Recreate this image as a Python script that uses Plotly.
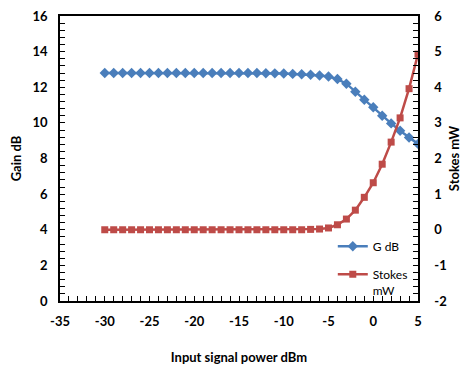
import plotly.graph_objects as go

input_power_dbm = [-30, -29, -28, -27, -26, -25, -24, -23, -22, -21, -20, -19,
                   -18, -17, -16, -15, -14, -13, -12, -11, -10, -9, -8, -7,
                   -6, -5, -4, -3, -2, -1, 0, 1, 2, 3, 4, 5]
gain_db = [12.8, 12.8, 12.8, 12.8, 12.8, 12.8, 12.8, 12.8, 12.8, 12.8, 12.8, 12.8,
           12.8, 12.8, 12.8, 12.8, 12.8, 12.8, 12.79, 12.78, 12.77, 12.75, 12.73, 12.7,
           12.66, 12.6, 12.46, 12.2, 11.75, 11.3, 10.88, 10.4, 9.97, 9.56, 9.18, 8.82]
stokes_mw = [0, 0, 0, 0, 0, 0, 0, 0, 0, 0, 0, 0,
             0, 0, 0, 0, 0, 0, 0, 0, 0, 0, 0, 0.01,
             0.02, 0.05, 0.14, 0.3, 0.55, 0.91, 1.32, 1.84, 2.46, 3.14, 3.96, 4.93]

x_tick_vals = [-35, -30, -25, -20, -15, -10, -5, 0, 5]
x_tick_text = ["-35", "-30", "-25", "-20", "-15", "-10", "-5", "0", "5"]
y_tick_vals = [0, 2, 4, 6, 8, 10, 12, 14, 16]
y_tick_text = ["0", "2", "4", "6", "8", "10", "12", "14", "16"]
y2_tick_vals = [-2, -1, 0, 1, 2, 3, 4, 5, 6]
y2_tick_text = ["-2", "-1", "0", "1", "2", "3", "4", "5", "6"]

series_names = ["G dB", "Stokes<br>mW"]
x_title = "Input signal power dBm"
y_title = "Gain dB"
y2_title = "Stokes mW"

BLUE = "#4A7EBB"
RED = "#BE4B48"
FONT = "Lato"

fig = go.Figure()
fig.add_trace(go.Scatter(
    x=input_power_dbm, y=gain_db, name=series_names[0], mode="lines+markers",
    line=dict(color=BLUE, width=2.5),
    marker=dict(symbol="diamond", size=8, color=BLUE),
    legend="legend", yaxis="y"))
fig.add_trace(go.Scatter(
    x=input_power_dbm, y=stokes_mw, name=series_names[1], mode="lines+markers",
    line=dict(color=RED, width=2.5),
    marker=dict(symbol="square", size=7, color=RED),
    legend="legend2", yaxis="y2"))

tickfont = dict(family=FONT, size=13, color="black", weight="bold")
titlefont = dict(family=FONT, size=13, color="black", weight="bold")
legend_style = dict(
    xanchor="left", yanchor="top",
    bgcolor="rgba(255,255,255,0)", borderwidth=0,
    font=dict(family=FONT, size=12, color="black"),
    valign="top",
)

# the page body has an 8px margin, so the figure is sized to fit the window
fig.update_layout(
    width=466, height=357,
    margin=dict(l=52, r=56, t=8, b=64, autoexpand=False),
    paper_bgcolor="white", plot_bgcolor="white",
    font=dict(family=FONT, color="black"),
    xaxis=dict(
        range=[-35, 5], tickvals=x_tick_vals, ticktext=x_tick_text,
        automargin=False, ticklabeloverflow="allow",
        showgrid=False, zeroline=False,
        showline=True, linecolor="black", linewidth=1.5, mirror=True,
        ticks="inside", ticklen=5, tickcolor="black",
        minor=dict(dtick=1, tick0=0, ticks="inside", ticklen=5, tickcolor="black", showgrid=False),
        tickfont=tickfont, ticklabelstandoff=8,
        title=dict(text=x_title, font=titlefont, standoff=26),
    ),
    yaxis=dict(
        range=[0, 16], tickvals=y_tick_vals, ticktext=y_tick_text,
        automargin=False, ticklabeloverflow="allow",
        showgrid=False, zeroline=False,
        showline=True, linecolor="black", linewidth=1.5,
        ticks="inside", ticklen=5, tickcolor="black",
        minor=dict(dtick=0.4, tick0=0, ticks="inside", ticklen=5, tickcolor="black", showgrid=False),
        tickfont=tickfont, ticklabelstandoff=8,
        title=dict(text=y_title, font=titlefont, standoff=11),
    ),
    yaxis2=dict(
        range=[-2, 6], tickvals=y2_tick_vals, ticktext=y2_tick_text,
        overlaying="y", side="right", automargin=False, ticklabeloverflow="allow",
        showgrid=False, zeroline=False,
        showline=True, linecolor="black", linewidth=1.5,
        ticks="inside", ticklen=5, tickcolor="black",
        minor=dict(dtick=0.2, tick0=0, ticks="inside", ticklen=5, tickcolor="black", showgrid=False),
        tickfont=tickfont, ticklabelstandoff=12,
        title=dict(text=y2_title, font=titlefont, standoff=4),
    ),
    legend=dict(x=0.762, y=0.2425, **legend_style),
    legend2=dict(x=0.762, y=0.144, **legend_style),
    showlegend=True,
)

fig.write_html("out.html")
